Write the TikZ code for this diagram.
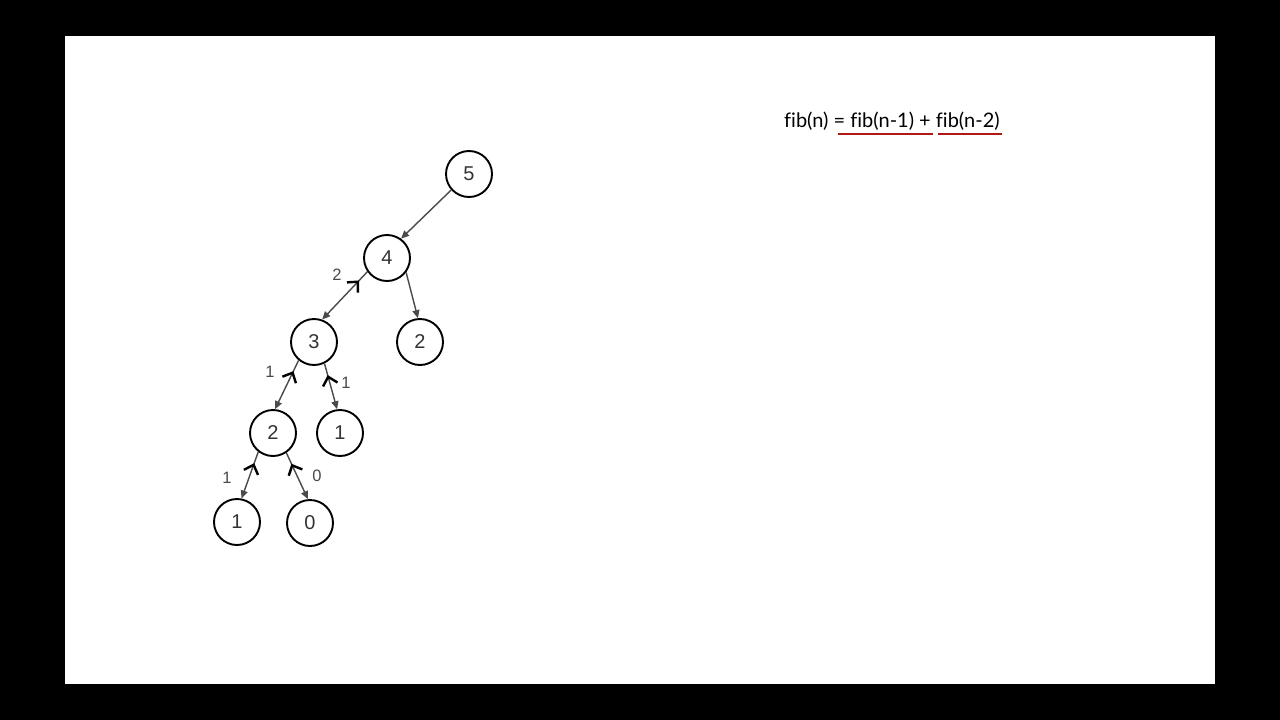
\documentclass[tikz,border=0pt]{standalone}
\usepackage{fontspec}
\setmainfont{Liberation Sans}
\newfontfamily\formulafont[Ligatures=NoCommon]{Lato}
\usetikzlibrary{arrows.meta,decorations.markings}
\definecolor{edgegray}{HTML}{4A4A4A}
\definecolor{underred}{HTML}{B01818}
\begin{document}
\begin{tikzpicture}[x=1pt,y=-1pt]
  \tikzstyle{vertex}=[circle,draw=black,line width=1.9pt,minimum size=46pt,inner sep=0pt,text=black!80,font=\fontsize{20}{20}\selectfont]
  \tikzstyle{call}=[draw=edgegray,line width=1.4pt,-{Triangle[length=8pt,width=7pt]}]
  \tikzstyle{back}=[call,postaction={decorate},decoration={markings,mark=at position 12pt with {\arrowreversed[black,line width=2.4pt]{Straight Barb[length=8pt,width=15pt]}}}]
  \tikzstyle{value}=[text=edgegray,font=\fontsize{16.5}{16.5}\selectfont,inner sep=0pt]
  % frame
  \fill[black] (0,0) rectangle (1280,720);
  \fill[white] (65,36) rectangle (1215,684);
  % tree
  \node[vertex] (f5) at (469,174) {5};
  \node[vertex] (f4) at (387,258) {4};
  \node[vertex] (f3) at (314,342) {3};
  \node[vertex] (f2r) at (420,342) {2};
  \node[vertex] (f2) at (273,433) {2};
  \node[vertex] (f1r) at (340,433) {1};
  \node[vertex] (f1) at (237,522) {1};
  \node[vertex] (f0) at (310,523) {0};
  \draw[call] (f5.222) -- (f4.54);
  \draw[call] (f4.323) -- (f2r.95);
  \draw[back] (f4.215) -- (f3.70);
  \draw[back] (f3.230) -- (f2.85);
  \draw[back] (f3.296) -- (f1r.97);
  \draw[back] (f2.232) -- (f1.79);
  \draw[back] (f2.304) -- (f0.95);
  % returned values
  \node[value] (v4) at (337,275) {2};
  \node[value] (v3) at (270,372) {1};
  \node[value] (v1r) at (346,383) {1};
  \node[value] (v1) at (227,478) {1};
  \node[value] (v0) at (317,476) {0};
  % formula
  \node[anchor=west,inner sep=0pt,font=\formulafont\fontsize{20}{20}\selectfont] (fib) at (784,121) {fib(n) = fib(n-1) + fib(n-2)};
  \coordinate (u1a) at (838,134);
  \coordinate (u1b) at (933,134);
  \coordinate (u2a) at (938,134);
  \coordinate (u2b) at (1002,134);
  \draw[underred,line width=2.6pt] (u1a) -- (u1b);
  \draw[underred,line width=1.8pt] (u2a) -- (u2b);
\end{tikzpicture}
\end{document}
